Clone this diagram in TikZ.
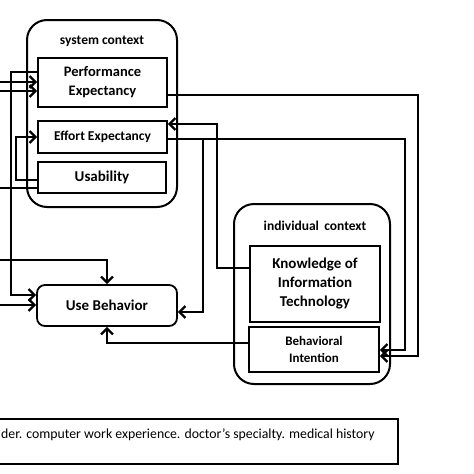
\documentclass[tikz,border=0pt]{standalone}
\usepackage{fontspec}
\setmainfont{Carlito}
\usetikzlibrary{arrows.meta,calc}
\begin{document}
\begin{tikzpicture}[x=1pt,y=-1pt,
  box/.style={draw,line width=1.8pt,inner sep=0pt,align=center,font=\bfseries},
  ctx/.style={draw,line width=2pt,rounded corners=20pt,inner sep=0pt},
  conn/.style={line width=2.6pt},
  arr/.style={conn,-{Straight Barb[length=6pt,width=12pt,line width=2.2pt]}}]
\useasboundingbox (0,0) rectangle (474,474);
% contexts
\node[ctx,minimum width=150pt,minimum height=187pt] (sys) at (102,113.5) {};
\node[font=\bfseries\fontsize{13.5}{15}\selectfont] (syst) at (102,41) {system context};
\node[ctx,minimum width=156pt,minimum height=180pt] (ind) at (312,294) {};
\node[font=\bfseries\fontsize{13.5}{15}\selectfont] (indt) at (315,226) {individual\, context};
% boxes
\node[box,minimum width=129pt,minimum height=49pt,font=\bfseries\fontsize{14.5}{19}\selectfont] (pe) at (102.5,82.5) {Performance\\Expectancy};
\node[box,minimum width=129pt,minimum height=32pt,font=\bfseries\fontsize{13.5}{15}\selectfont] (ee) at (102.5,137) {Effort Expectancy};
\node[box,minimum width=128pt,minimum height=31pt,font=\bfseries\fontsize{15}{17}\selectfont] (us) at (102,177.5) {Usability};
\node[box,rounded corners=8pt,minimum width=140pt,minimum height=41pt,font=\bfseries\fontsize{15}{17}\selectfont] (ub) at (107,305.5) {Use Behavior};
\node[box,minimum width=130pt,minimum height=76pt,font=\bfseries\fontsize{15}{19}\selectfont] (kn) at (315,284) {Knowledge of\\Information\\Technology};
\node[box,minimum width=130pt,minimum height=45pt,font=\bfseries\fontsize{13}{17}\selectfont] (bi) at (314,349.5) {Behavioral\\Intention};
% bottom box
\node[draw,line width=1.3pt,minimum width=403pt,minimum height=45pt,inner sep=0pt] (mod) at (196.5,441.5) {};
\node[anchor=west,inner sep=0pt,font=\fontsize{13.8}{15}\selectfont] (modt) at (1,435) {der. computer work experience. doctor's specialty. medical history};
% helper coordinates
\coordinate (r418) at (418,200);
\coordinate (r405) at (405,200);
\coordinate (c203) at (203,250);
\coordinate (c217) at (217,200);
\coordinate (c10) at (11,200);
\coordinate (c15) at (16,160);
\coordinate (l82) at (0,82);
\coordinate (l91) at (0,91);
\coordinate (l188) at (0,188);
\coordinate (l260) at (0,260);
\coordinate (l305) at (0,305);
% connectors
\draw[arr] ([yshift=-12.5pt]pe.east) -| (r418) |- ([yshift=-6.5pt]bi.east);
\draw[arr] ([yshift=-2pt]ee.east) -| (r405) |- ([yshift=-0.5pt]bi.east);
\draw[arr] ([yshift=-2pt]ee.east) -| (c203) |- ([yshift=-6.5pt]ub.east);
\draw[arr] ([yshift=16pt]kn.west) -| (c217) |- ([yshift=13pt]ee.east);
\draw[arr] ([yshift=6.5pt]bi.west) -| (ub.south);
\draw[arr] (l260) -| (ub.north);
\draw[arr] ([yshift=10.5pt]pe.west) -| (c10) |- ([yshift=10.5pt]ub.west);
\draw[arr] (l82) -- (l82 -| pe.west);
\draw[arr] (l91) -- (l91 -| pe.west);
\draw[arr] ([yshift=-2.5pt]us.west) -| (c15) |- (ee.west);
\draw[conn] (l188) -- (l188 -| us.west);
\draw[arr] (l305) -- (l305 -| ub.west);
\end{tikzpicture}
\end{document}
